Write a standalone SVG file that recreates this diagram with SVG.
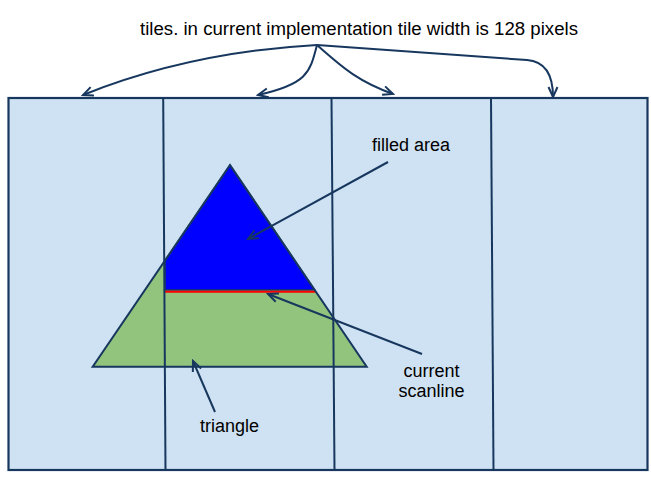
<svg xmlns="http://www.w3.org/2000/svg" width="651" height="478" viewBox="0 0 651 478">
  <style>
    .edge { fill: none; stroke: #17375e; stroke-width: 2; }
    .tile { fill: #cfe2f3; stroke: #17375e; stroke-width: 2.2; }
    .sep { stroke: #17375e; stroke-width: 2; }
    .lbl { font-family: "Liberation Sans", Arial, sans-serif; font-size: 18px; fill: #000; }
    .conn { fill: none; stroke: #17375e; stroke-width: 2; marker-end: url(#arr); }
  </style>
  <defs>
    <marker id="arr" markerUnits="userSpaceOnUse" markerWidth="14" markerHeight="12" viewBox="-12 -6 14 12" refX="0" refY="0" orient="auto">
      <path d="M-10,-4.5 L0,0 L-10,4.5" fill="none" stroke="#17375e" stroke-width="2"/>
    </marker>
  </defs>
  <rect width="651" height="478" fill="#ffffff"/>
  <g id="tiles">
    <rect class="tile" x="8.5" y="98" width="639" height="372"/>
  </g>
  <g id="triangle">
    <polygon points="230,165 92.7,366.7 366.7,366.7" fill="#93c47d"/>
    <polygon points="165,260.5 230,165 314.8,290 165,290" fill="#0000ff" stroke="#17375e" stroke-width="1.5"/>
    <line x1="165" y1="291.8" x2="316" y2="291.8" stroke="#ff0000" stroke-width="2"/>
    <polygon class="edge" points="230,165 92.7,366.7 366.7,366.7"/>
  </g>
  <g id="tile-separators">
    <line class="sep" x1="163.2" y1="98" x2="165.5" y2="470"/>
    <line class="sep" x1="331.5" y1="98" x2="334.5" y2="470"/>
    <line class="sep" x1="491" y1="98" x2="493.5" y2="470"/>
  </g>
  <g id="connectors">
    <path class="conn" d="M317,45 Q190,52 83,95"/>
    <path class="conn" d="M317,45 C310,72 308,84 258,95"/>
    <path class="conn" d="M317,45 C345,70 360,82 393,94"/>
    <path class="conn" d="M317,45 L527,60 Q553,62 553,97"/>
    <path class="conn" d="M388,162 L248,239"/>
    <path class="conn" d="M422,354 L268,294"/>
    <path class="conn" d="M215,412 L193,361"/>
  </g>
  <g id="label-tiles">
    <text class="lbl" x="140" y="35" textLength="438" lengthAdjust="spacingAndGlyphs">tiles. in current implementation tile width is 128 pixels</text>
  </g>
  <g id="label-filled">
    <text class="lbl" x="372" y="151">filled area</text>
  </g>
  <g id="label-scanline">
    <text class="lbl" x="431.5" y="377" text-anchor="middle">current</text>
    <text class="lbl" x="431.5" y="397" text-anchor="middle">scanline</text>
  </g>
  <g id="label-triangle">
    <text class="lbl" x="200" y="432">triangle</text>
  </g>
</svg>
